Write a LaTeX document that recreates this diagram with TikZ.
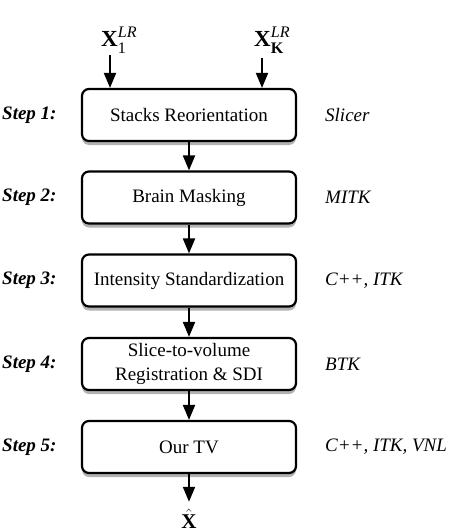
\documentclass[tikz,border=0pt]{standalone}
\usepackage{fontspec}
\setmainfont{Liberation Serif}
\usetikzlibrary{arrows.meta,shadows}
\begin{document}
\begin{tikzpicture}[x=1pt,y=-1pt,
  stepbox/.style={draw, line width=2.2pt, rounded corners=7pt, fill=white,
    minimum width=214pt, minimum height=52pt, align=center, inner sep=2pt,
    font=\fontsize{19}{24}\selectfont,
    drop shadow={shadow xshift=0pt, shadow yshift=-4pt, opacity=0.3, fill=black}},
  steplabel/.style={anchor=west, inner sep=0pt, font=\fontsize{19}{22}\selectfont\bfseries\itshape},
  toollabel/.style={anchor=west, inner sep=0pt, font=\fontsize{19}{22}\selectfont\itshape},
  invar/.style={inner sep=0pt, font=\fontsize{23}{26}\selectfont},
  flow/.style={line width=2pt, -{Triangle[width=12pt,length=15pt]}}]
\useasboundingbox (0,0) rectangle (474,532);

\node[stepbox] (b1) at (189,115) {Stacks Reorientation};
\node[stepbox] (b2) at (189,197.5) {Brain Masking};
\node[stepbox] (b3) at (189,280.5) {Intensity Standardization};
\node[stepbox] (b4) at (189,364) {Slice-to-volume\\Registration \& SDI};
\node[stepbox] (b5) at (189,447) {Our TV};

\node[steplabel] (s1) at (2,115) {Step 1:};
\node[steplabel] (s2) at (2,197.5) {Step 2:};
\node[steplabel] (s3) at (2,280.5) {Step 3:};
\node[steplabel] (s4) at (2,364) {Step 4:};
\node[steplabel] (s5) at (2,447) {Step 5:};

\node[toollabel] (t1) at (325,115) {Slicer};
\node[toollabel] (t2) at (325,197.5) {MITK};
\node[toollabel] (t3) at (325,280.5) {C++, ITK};
\node[toollabel] (t4) at (325,364) {BTK};
\node[toollabel] (t5) at (325,447) {C++, ITK, VNL};

\node[invar, anchor=base west] (x1) at (101,47) {$\mathbf{X}_{\mathrm{1}}^{\mathit{LR}}$};
\node[invar, anchor=base west] (xk) at (254,47) {$\mathbf{X}_{\mathbf{K}}^{\mathit{LR}}$};
\coordinate (in1) at (110,55);
\coordinate (ink) at (262,58);
\node[invar, font=\fontsize{21}{24}\selectfont, anchor=base, outer sep=7pt] (xhat) at (189,528) {$\hat{\mathbf{X}}$};

\draw[flow] (in1) -- (in1 |- b1.north);
\draw[flow] (ink) -- (ink |- b1.north);
\draw[flow] (b1) -- (b2);
\draw[flow] (b2) -- (b3);
\draw[flow] (b3) -- (b4);
\draw[flow] (b4) -- (b5);
\draw[flow] (b5.south) -- (b5.south |- xhat.north);
\end{tikzpicture}
\end{document}
